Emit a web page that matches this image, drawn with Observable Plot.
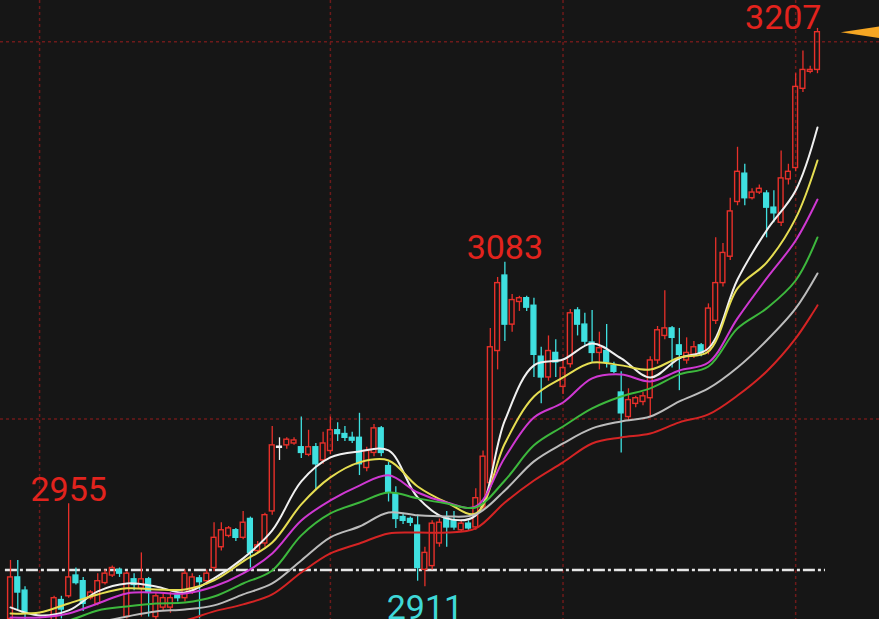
<!DOCTYPE html>
<html><head><meta charset="utf-8">
<script src="https://cdn.jsdelivr.net/npm/d3@7"></script>
<script src="https://cdn.jsdelivr.net/npm/@observablehq/plot@0.6"></script>
<style>html,body{margin:0;padding:0;background:#161616;overflow:hidden}</style>
</head><body><div id="chart"></div><script>
// ---- OHLC data (one candle per session) ----
const open  = [2894,2916,2909,2892,2884,2888,2892,2904,2906,2917,2914,2905,2902,2913,2917,2920,2895,2915,2910,2915,2895,2900,2900,2906.5,2905,2909,2915.5,2914,2921,2932,2938,2941,2937,2947,2930,2934,2951,2985,2986,2987,2985,2981,2985,2978,2983,2994,2992,2990,2990,2974,2982,2995,2975,2960,2948,2947,2943.5,2920,2922,2934,2948,2946,2941,2944.5,2942.5,2953,2966,3036,3076,3050,3062,3064,3060,3033,3022,3035,3017,3029,3057.5,3050,3040.5,3035,3036,3028,3014,3001,3008,3009,3011,3031,3044,3048,3039,3031,3034,3039,3036,3052,3072,3086,3115,3130,3117,3120,3119.5,3112,3104,3127,3133,3175,3184,3185];
const high  = [2925,2925,2911,2893,2892,2893.5,2906,2906,2955,2921,2916,2909,2918,2920,2922,2921,2919,2918,2929,2916,2908,2907,2908,2908,2920,2918,2917,2920,2945,2945,2943,2942,2951,2948,2935,2950,2996,2990,2990,2990,3001,2994,2987,2993,3001,2998,2996,2993,3003,2985,2997,2996,2977,2964,2950,2948,2949,2932,2946,2947,2951,2951,2946,2946,2963,2983,3048,3075,3083,3066,3065,3065,3064,3038,3044,3042,3031,3058,3059,3056,3057.5,3046,3050,3030,3025,3016,3012,3014,3033,3049,3068,3049,3048,3043,3041,3040,3061,3096,3093,3117,3144,3135,3122,3124,3121,3121,3142,3135,3183,3195,3187,3207];
const low   = [2890,2899,2890,2882,2880,2885,2890,2894,2905,2912,2898,2904,2901,2912,2916,2916,2894,2909,2895,2895,2893,2898,2897,2903,2903,2907,2894,2912,2919,2930,2937,2935,2936,2921,2929,2932,2949,2978,2984,2986,2979,2980,2962,2976,2981,2988,2988,2987,2970,2972,2980,2980,2956,2942,2944,2943,2914,2911,2920,2932,2932,2941,2940,2941,2941,2951,2963,3026,3041,3046,3057,3057,3022,3008,3020,3022,3013,3027,3044,3039,3030,3026,3027,3024,2982,2999,3006,3007,3001,3029,3042,3027,3015,3029,3032,3033,3034,3050,3070,3084,3113,3113,3116,3119,3096,3104,3102,3124,3131,3173,3183,3183];
const close = [2916,2908,2897,2886,2890,2893,2905,2899,2916,2913,2902,2908,2914,2918,2921,2918,2918,2912,2915,2908,2906,2905,2905,2905,2918,2916,2913.5,2918,2937,2941,2942,2937,2945,2929,2933,2949,2986,2985,2989,2988.6,2982,2985,2976,2987,2994,2992,2990,2988.5,2976,2983,2995,2982,2961,2947,2946,2945,2921,2929,2944.5,2945,2942.5,2942.5,2944.5,2942,2958,2980,3038,3072,3050,3063,3064,3059,3034,3022,3036,3030,3027,3056,3050,3041,3035,3037.5,3030,3025,3003,3010,3011,3012,3031,3047,3048,3043,3034,3035,3038,3035,3058.5,3072,3088,3110,3131,3117,3120,3122,3112,3109,3127.5,3131,3176,3185,3185,3205];

// ---- moving averages, read at every 4th session ----
const maIndex  = [0,4,8,12,16,20,24,28,32,36,40,44,48,52,56,60,64,68,72,76,80,84,88,92,96,100,104,108,111];
const maWhite  = [2900.1,2895.8,2898.5,2908.6,2912.8,2911.2,2908.0,2915.5,2926.1,2940.9,2966.9,2979.6,2982.8,2983.3,2958.4,2947.3,2948.9,2999.2,3028.4,3031.5,3040.0,3032.1,3022.0,3032.1,3037.4,3073.9,3099.9,3121.1,3154.5];
const maYellow = [2896.9,2897.4,2902.2,2907.0,2910.2,2909.6,2909.6,2914.4,2924.5,2934.5,2954.7,2969.0,2977.0,2978.0,2964.2,2955.7,2949.9,2987.0,3011.9,3022.0,3029.9,3028.4,3026.2,3032.6,3035.8,3069.2,3082.9,3106.3,3137.0];
const maMagenta= [2894.8,2894.8,2896.9,2902.2,2907.5,2908.0,2907.5,2911.2,2918.1,2928.7,2946.2,2956.8,2964.7,2970.1,2961.0,2955.7,2953.6,2979.6,3000.8,3008.7,3021.5,3023.6,3019.9,3025.7,3029.9,3053.3,3074.5,3094.6,3116.3];
const maGreen  = [2892.1,2892.1,2893.2,2898.5,2900.6,2902.2,2902.7,2905.9,2912.8,2919.7,2938.3,2949.9,2955.7,2961.0,2957.9,2955.2,2953.1,2967.4,2986.0,2996.0,3005.6,3011.9,3016.2,3023.6,3027.8,3048.0,3058.6,3073.4,3096.2];
const maGray   = [2887.9,2887.9,2889.0,2892.1,2895.3,2898.0,2899.0,2901.2,2907.0,2912.8,2925.0,2937.2,2943.0,2950.4,2948.9,2948.3,2949.4,2962.1,2977.5,2987.0,2995.0,2998.7,3001.3,3009.3,3016.2,3027.3,3041.6,3058.6,3077.1];
const maRed    = [2882.6,2882.6,2883.7,2885.3,2887.9,2890.6,2893.2,2898.0,2901.7,2907.0,2918.6,2928.7,2934.0,2939.3,2939.8,2939.8,2942.0,2955.7,2967.4,2977.0,2987.0,2990.2,2992.3,2998.2,3002.4,3012.4,3025.2,3042.7,3060.2];
const maNames  = ["MA-a","MA-b","MA-c","MA-d","MA-e","MA-f"];
const maColors = ["#f0f0f0","#e6de52","#cf38d2","#3db83d","#bcbcbc","#d42424"];

// ---- grid, reference line, annotations ----
const gridPrices = [3000, 3200];
const gridSessions = [4, 44, 76, 108];
const refPrice = 2920;
const labelIndex = [8, 57, 68, 111];
const labelText  = ["2955", "2911", "3083", "3207"];
const labelKind  = ["high", "low", "high", "high"];

const BG = "#161616", UP = "#e8302a", DOWN = "#3fe0e0", FLAT = "#f2f2f2";
const N = open.length;
const candles = open.map((o, i) => {
  const c = close[i];
  const dir = c > o ? "up" : c < o ? "down" : "flat";
  return {i, o, h: high[i], l: low[i], c, dir,
    top: Math.max(o, c) + (o === c ? 0.3 : 0), bot: Math.min(o, c) - (o === c ? 0.3 : 0),
    col: dir === "up" ? UP : dir === "down" ? DOWN : FLAT};
});
const maSeries = [maWhite, maYellow, maMagenta, maGreen, maGray, maRed];
const maRows = maSeries.flatMap((arr, k) => arr.map((v, j) => ({i: maIndex[j], v, name: maNames[k]})));
const labels = labelIndex.map((idx, k) => ({
  i: idx, text: labelText[k], kind: labelKind[k],
  v: labelKind[k] === "high" ? high[idx] : low[idx], last: idx === N - 1
}));
const highLabels = labels.filter(d => d.kind === "high" && !d.last);
const lastLabels = labels.filter(d => d.kind === "high" && d.last);
const lowLabels  = labels.filter(d => d.kind === "low");
const lastPoint = [{i: N - 1 + 3.2, v: close[N - 1]}];
const leftTriangle = {draw(ctx) { ctx.moveTo(0, 0); ctx.lineTo(40, -6); ctx.lineTo(40, 6); ctx.closePath(); }};

const gridStyle = {stroke: "#6e1a1a", strokeWidth: 1.5, strokeDasharray: "3,3"};
const textStyle = {x: "i", y: "v", text: "text", fontSize: 34, fontFamily: "Roboto"};
const chart = Plot.plot({
  width: 879, height: 619, margin: 0,
  style: {background: BG, overflow: "hidden"},
  x: {domain: [-1.3755, 119.53], axis: null},
  y: {domain: [2893.7, 3221.8], axis: null},
  color: {type: "ordinal", domain: maNames, range: maColors},
  marks: [
    Plot.ruleY(gridPrices, gridStyle),
    Plot.ruleX(gridSessions, gridStyle),
    Plot.ruleY([refPrice], {x1: -0.7, x2: N + 0.1, stroke: "#e6e6e6", strokeWidth: 2.5, strokeDasharray: "12,3,3,3"}),
    Plot.ruleX(candles, {x: "i", y1: "top", y2: "h", stroke: "col", strokeWidth: 1.3}),
    Plot.ruleX(candles, {x: "i", y1: "l", y2: "bot", stroke: "col", strokeWidth: 1.3}),
    Plot.rect(candles, {x1: d => d.i - 0.33, x2: d => d.i + 0.33, y1: "bot", y2: "top",
      fill: d => d.dir === "down" ? DOWN : "none", stroke: "col", strokeWidth: 1.4}),
    Plot.line(maRows, {x: "i", y: "v", z: "name", stroke: "name", strokeWidth: 2, curve: "catmull-rom"}),
    Plot.text(highLabels, {...textStyle, fill: "#e2231d", textAnchor: "middle", lineAnchor: "bottom", dy: -3}),
    Plot.text(lastLabels, {...textStyle, fill: "#e2231d", textAnchor: "end", lineAnchor: "bottom", dx: 4, dy: 1}),
    Plot.text(lowLabels, {...textStyle, fill: "#3fd8d8", textAnchor: "middle", lineAnchor: "top", dy: 8}),
    Plot.dot(lastPoint, {x: "i", y: "v", symbol: leftTriangle, fill: "#f5a623", stroke: null})
  ]
});
document.getElementById("chart").append(chart);
</script></body></html>
